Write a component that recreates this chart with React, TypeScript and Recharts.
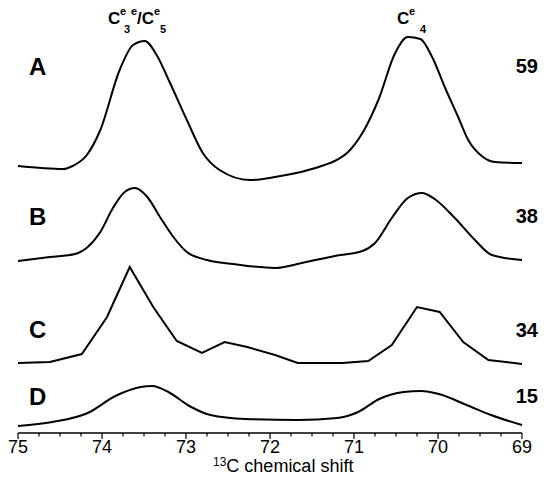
// 13C NMR スペクトル4本(A〜D)を縦に積み上げた図
import { Line, LineChart, XAxis, YAxis } from "recharts";

const FONT = '"Liberation Sans", Arial, Helvetica, sans-serif';
const INK = "#000000";

// 化学シフト (ppm) と各ピークの相対強度(ベースラインからの高さ)
const SHIFT_A = [
  75.0, 74.46, 74.35, 74.18, 74.02, 73.79, 73.63, 73.49, 73.35, 73.19, 72.99,
  72.8, 72.6, 72.24, 71.94, 71.35, 71.23, 71.07, 70.9, 70.71, 70.51, 70.36,
  70.21, 70.07, 69.92, 69.76, 69.64, 69.48, 69.32, 69.0,
];
const INTENSITY_A = [
  14, 11, 14, 25, 50, 110, 135, 139, 125, 97, 60, 27, 10, 0, 3, 15, 19, 28, 47,
  80, 127, 143, 141, 123, 93, 63, 40, 24, 18, 17,
];

const SHIFT_B = [
  75.0, 74.62, 74.32, 74.17, 74.02, 73.87, 73.73, 73.61, 73.46, 73.31, 73.15,
  72.99, 72.75, 72.44, 71.94, 71.62, 71.23, 70.9, 70.75, 70.55, 70.36, 70.19,
  70.04, 69.8, 69.56, 69.36, 69.0,
];
const INTENSITY_B = [
  7, 11, 14, 21, 36, 60, 76, 80, 71, 51, 31, 16, 8, 4, 0, 5, 12, 17, 25, 50, 70,
  75, 69, 50, 28, 13, 8,
];

const SHIFT_C = [
  75.0, 74.62, 74.24, 73.94, 73.67, 73.39, 73.11, 72.81, 72.54, 72.27, 71.94,
  71.67, 71.14, 70.83, 70.55, 70.25, 69.98, 69.7, 69.4, 69.0,
];
const INTENSITY_C = [
  1, 2, 10, 47, 97, 57, 23, 11, 22, 17, 9, 1, 1, 3, 19, 57, 52, 22, 4, 0,
];

const SHIFT_D = [
  75.0, 74.59, 74.17, 73.84, 73.54, 73.4, 73.21, 72.96, 72.71, 72.29, 71.67,
  71.2, 70.95, 70.7, 70.41, 70.2, 69.99, 69.66, 69.37, 69.0,
];
const INTENSITY_D = [
  0, 4, 13, 30, 39, 40, 34, 20, 11, 7, 6, 8, 14, 27, 34, 35, 32, 21, 11, 1,
];

const SAMPLE_NAMES = ["A", "B", "C", "D"];
const SAMPLE_NUMBERS = ["59", "38", "34", "15"];

const MAJOR_TICKS = [75, 74, 73, 72, 71, 70, 69];
const ALL_TICKS = [
  75, 74.75, 74.5, 74.25, 74, 73.75, 73.5, 73.25, 73, 72.75, 72.5, 72.25, 72,
  71.75, 71.5, 71.25, 71, 70.75, 70.5, 70.25, 70, 69.75, 69.5, 69.25, 69,
];

// 積み上げ表示用のずらし量と、各ラベルの縦位置(ベースライン)
const STACK_OFFSET = [253, 165, 69, 7];
const NAME_Y = [75, 225, 338, 405];
const NUMBER_Y = [73, 223, 337, 403];

const W = 550;
const H = 485;
const AXIS_H = 52;

function toPoints(shift: number[], intensity: number[], offset: number) {
  return shift.map((x, i) => ({ x, y: intensity[i] + offset }));
}

// C は角ばった折れ線、それ以外はなめらかに
const TRACES = [
  { key: "A", data: toPoints(SHIFT_A, INTENSITY_A, STACK_OFFSET[0]), curve: "monotone" },
  { key: "B", data: toPoints(SHIFT_B, INTENSITY_B, STACK_OFFSET[1]), curve: "monotone" },
  { key: "C", data: toPoints(SHIFT_C, INTENSITY_C, STACK_OFFSET[2]), curve: "linear" },
  { key: "D", data: toPoints(SHIFT_D, INTENSITY_D, STACK_OFFSET[3]), curve: "monotone" },
] as const;

function ShiftTick(props: any) {
  const { x, y, payload } = props;
  const major = MAJOR_TICKS.includes(payload.value);
  return (
    <g>
      <line x1={x} x2={x} y1={y} y2={y + (major ? 6 : 3.5)} stroke={INK} strokeWidth={1.2} />
      {major && (
        <text x={x} y={y + 20} textAnchor="middle" fontSize={18} fontFamily={FONT} fill={INK}>
          {payload.value}
        </text>
      )}
    </g>
  );
}

// C^e_3 ^e / C^e_5 のような上付き・下付きの帰属ラベル
function PeakLabel({ x, parts }: { x: number; parts: { t: string; dx: number; kind: "main" | "sup" | "sub" }[] }) {
  let cx = x;
  return (
    <g fontFamily={FONT} fontWeight="bold" fill={INK}>
      {parts.map((p, i) => {
        const px = cx;
        cx += p.dx;
        const y = p.kind === "main" ? 24 : p.kind === "sup" ? 15 : 33;
        const size = p.kind === "main" ? 17 : 11;
        return (
          <text key={i} x={px} y={y} fontSize={size}>
            {p.t}
          </text>
        );
      })}
    </g>
  );
}

export default function App() {
  return (
    <div style={{ position: "absolute", left: 0, top: 0, width: W, height: H, background: "#fff" }}>
      <LineChart width={W} height={H} margin={{ top: 0, right: 28, bottom: 0, left: 18 }}>
        <XAxis
          dataKey="x"
          type="number"
          domain={[69, 75]}
          reversed
          ticks={ALL_TICKS}
          interval={0}
          tick={ShiftTick}
          tickLine={false}
          tickSize={0}
          tickMargin={0}
          height={AXIS_H}
          axisLine={{ stroke: INK, strokeWidth: 1.5 }}
        />
        <YAxis type="number" domain={[0, H - AXIS_H]} hide width={0} />
        {TRACES.map((t) => (
          <Line
            key={t.key}
            data={t.data}
            dataKey="y"
            type={t.curve}
            stroke={INK}
            strokeWidth={2}
            dot={false}
            activeDot={false}
            isAnimationActive={false}
          />
        ))}
      </LineChart>
      <svg
        width={W}
        height={H}
        style={{ position: "absolute", left: 0, top: 0, pointerEvents: "none" }}
      >
        <PeakLabel
          x={108}
          parts={[
            { t: "C", dx: 12, kind: "main" },
            { t: "e", dx: 4, kind: "sup" },
            { t: "3", dx: 7, kind: "sub" },
            { t: "e", dx: 6, kind: "sup" },
            { t: "/C", dx: 17, kind: "main" },
            { t: "e", dx: 6, kind: "sup" },
            { t: "5", dx: 6, kind: "sub" },
          ]}
        />
        <PeakLabel
          x={397}
          parts={[
            { t: "C", dx: 12, kind: "main" },
            { t: "e", dx: 11, kind: "sup" },
            { t: "4", dx: 6, kind: "sub" },
          ]}
        />
        {SAMPLE_NAMES.map((n, i) => (
          <text key={n} x={29} y={NAME_Y[i]} fontSize={24} fontWeight="bold" fontFamily={FONT} fill={INK}>
            {n}
          </text>
        ))}
        {SAMPLE_NUMBERS.map((n, i) => (
          <text
            key={n}
            x={538}
            y={NUMBER_Y[i]}
            textAnchor="end"
            fontSize={20}
            fontWeight="bold"
            fontFamily={FONT}
            fill={INK}
          >
            {n}
          </text>
        ))}
        <text x={213} y={472} fontFamily={FONT} fontSize={18} fill={INK}>
          <tspan fontSize={12} dy={-6}>13</tspan>
          <tspan dy={6}>C chemical shift</tspan>
        </text>
      </svg>
    </div>
  );
}
